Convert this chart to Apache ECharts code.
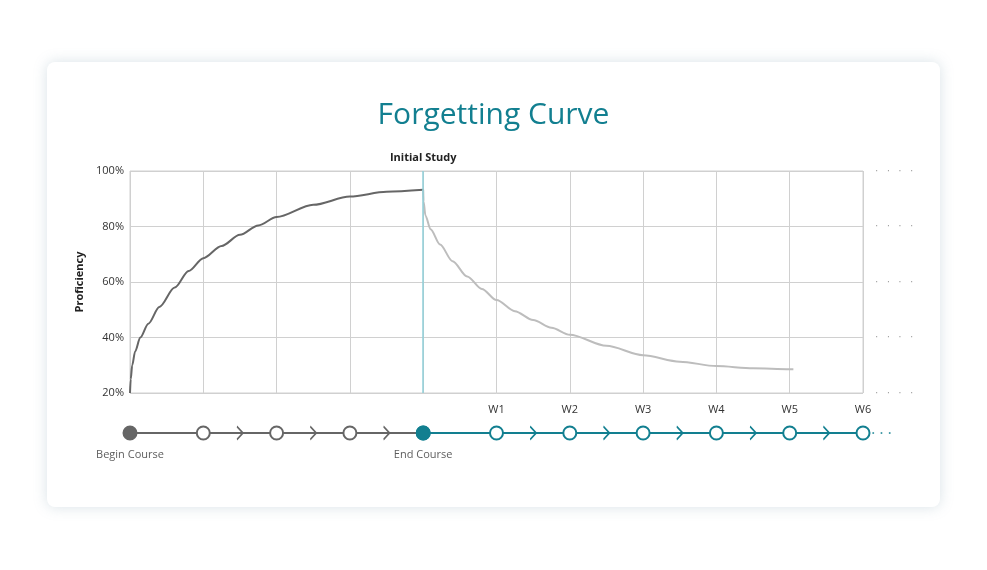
<!DOCTYPE html>
<html><head><meta charset="utf-8">
<script src="https://cdn.jsdelivr.net/npm/echarts@6/dist/echarts.min.js"></script>
<style>
html,body{margin:0;padding:0;background:#fff;width:987px;height:570px;overflow:hidden;font-family:"Open Sans",sans-serif}
#card{position:absolute;left:47px;top:62px;width:893px;height:445px;background:#fff;border-radius:8px;box-shadow:0 0 14px rgba(120,150,170,0.28)}
#c{position:absolute;left:0;top:0;width:987px;height:570px}
</style></head><body>
<div id="card"></div><div id="c"></div>
<script>
const yTicks = [20, 40, 60, 80, 100];
const learnCurve = [[0,20],[0.01,25],[0.03,30],[0.07,35],[0.14,40],[0.25,45],[0.4,51],[0.61,58],[0.8,64],[1,68.6],[1.25,73],[1.5,77],[1.75,80.4],[2,83.4],[2.5,87.8],[3,90.8],[3.5,92.5],[4,93.2]];
const forgetCurve = [[4,93.2],[4.005,89],[4.03,84],[4.1,79],[4.23,73.5],[4.4,67.5],[4.6,62],[4.8,57.5],[5,53.5],[5.25,49.5],[5.5,46.3],[5.75,43.5],[6,41],[6.5,37],[7,33.6],[7.5,31.3],[8,29.7],[8.5,28.9],[9,28.6],[9.05,28.6]];
const courseNodes = [0,1,2,3,4];
const weekNodes = [4,5,6,7,8,9,10];
const weekLabels = ['W1','W2','W3','W4','W5','W6'];
const courseArrows = [1.5,2.5,3.5];
const weekArrows = [5.5,6.5,7.5,8.5,9.5];
const bottomLabels = [[0,'Begin Course'],[4,'End Course']];

const TEAL = '#127f90', GRAY = '#666';
const chart = echarts.init(document.getElementById('c'));
const chev = 'path://M0,0 L6,6 L0,12';
const arrowSeries = (data,col)=>({type:'scatter',xAxisIndex:1,yAxisIndex:2,data:data.map(x=>[x,0.5]),symbol:chev,symbolSize:[6,13],z:5,
     itemStyle:{color:'rgba(0,0,0,0)',borderColor:col,borderWidth:1.5,opacity:1}});
chart.setOption({
  animation:false,
  title:{text:'Forgetting Curve',left:'center',top:95,textStyle:{color:TEAL,fontSize:30,fontWeight:'normal',fontFamily:'Open Sans'}},
  grid:[{left:130,right:124,top:171,height:222,show:true,borderColor:'#d0d0d0',borderWidth:1},
        {left:130,right:124,top:403,height:60}],
  xAxis:[{type:'value',min:0,max:10,interval:1,gridIndex:0,axisLabel:{show:false},axisTick:{show:false},axisLine:{show:false},splitLine:{lineStyle:{color:'#d0d0d0'}}},
         {type:'value',min:0,max:10,gridIndex:1,show:false}],
  yAxis:[{type:'value',min:20,max:100,interval:20,gridIndex:0,name:'Proficiency',nameLocation:'middle',nameGap:38,nameRotate:90,
          nameTextStyle:{color:'#222',fontWeight:'bold',fontSize:11,fontFamily:'Open Sans'},
          axisLine:{show:false},axisTick:{show:false},splitLine:{lineStyle:{color:'#d0d0d0'}},
          axisLabel:{formatter:v=>v+'%',color:'#333',fontSize:11,fontFamily:'Open Sans',margin:6}},
         {type:'value',min:20,max:100,interval:20,gridIndex:0,position:'right',axisLine:{show:false},axisTick:{show:false},splitLine:{show:false},
          axisLabel:{formatter:()=>'·   ·   ·   ·',color:'#999',fontSize:10,margin:12}},
         {type:'value',min:0,max:1,gridIndex:1,show:false}],
  series:[
    {type:'line',data:learnCurve,smooth:0.3,smoothMonotone:'x',symbol:'none',lineStyle:{color:GRAY,width:2},
     markLine:{silent:true,symbol:'none',data:[{xAxis:4}],lineStyle:{color:'#8fcfd8',width:1.5,type:'solid'},
       label:{position:'end',formatter:'Initial Study',color:'#222',fontWeight:'bold',fontSize:11,fontFamily:'Open Sans',distance:8}}},
    {type:'line',data:forgetCurve,smooth:0.3,smoothMonotone:'x',symbol:'none',lineStyle:{color:'#bdbdbd',width:2}},
    {type:'line',xAxisIndex:1,yAxisIndex:2,data:weekNodes.map(x=>[x,0.5]),symbol:'circle',symbolSize:13,z:3,
     lineStyle:{color:TEAL,width:2},itemStyle:{color:'#fff',borderColor:TEAL,borderWidth:2},
     label:{show:true,position:'top',distance:10,color:'#333',fontSize:11,fontFamily:'Open Sans',formatter:p=>p.dataIndex>0?weekLabels[p.dataIndex-1]:''}},
    {type:'line',xAxisIndex:1,yAxisIndex:2,data:courseNodes.map((x,i)=>({value:[x,0.5],itemStyle:i===0?{color:GRAY,borderColor:GRAY}:(i===4?{color:TEAL,borderColor:TEAL}:{})})),
     symbol:'circle',symbolSize:13,z:4,lineStyle:{color:GRAY,width:2},itemStyle:{color:'#fff',borderColor:GRAY,borderWidth:2}},
    arrowSeries(courseArrows,GRAY),
    arrowSeries(weekArrows,TEAL),
    {type:'scatter',xAxisIndex:1,yAxisIndex:2,data:bottomLabels.map(d=>({value:[d[0],0.5],name:d[1]})),symbolSize:0,
     label:{show:true,position:'bottom',distance:16,formatter:p=>p.name,color:'#333',fontSize:11,fontFamily:'Open Sans'}},
    {type:'scatter',xAxisIndex:1,yAxisIndex:2,data:[[10,0.5]],symbolSize:0,
     label:{show:true,position:'right',distance:9,formatter:'•   •   •',color:TEAL,fontSize:7}}
  ]
});
</script></body></html>
